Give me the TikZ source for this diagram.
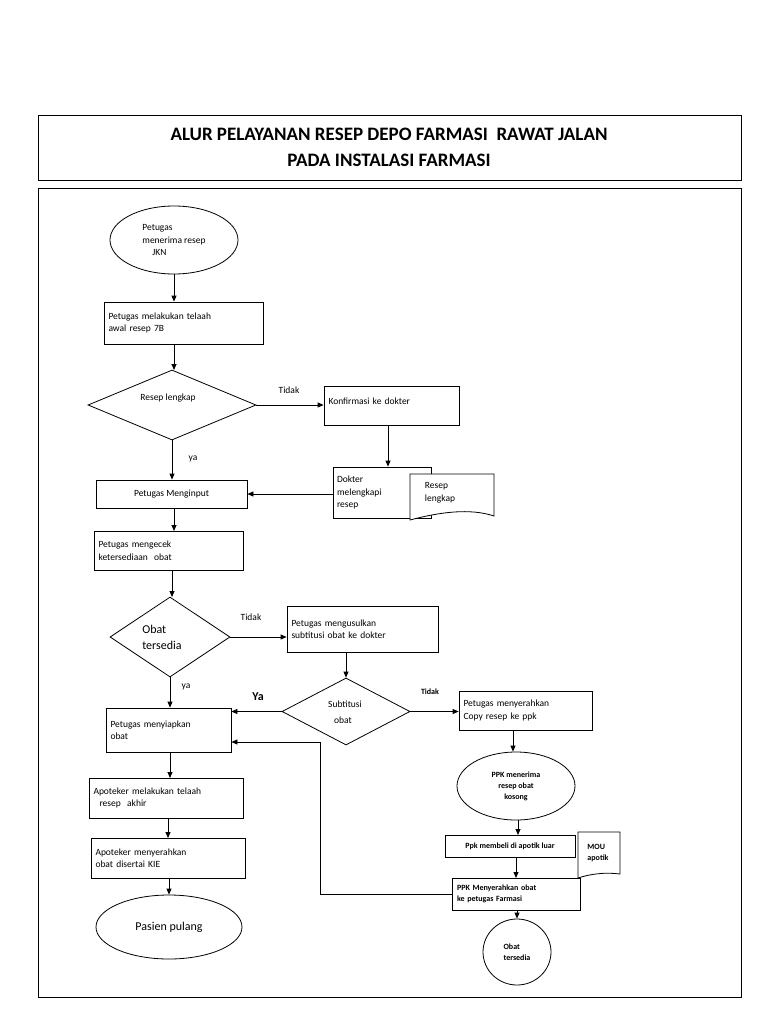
\documentclass[tikz,border=0pt]{standalone}
\usepackage{fontspec}
\setmainfont{Carlito}
\usetikzlibrary{shapes.geometric,arrows.meta}
\begin{document}
\begin{tikzpicture}[x=1pt,y=-1pt,
  every node/.style={font=\fontsize{9.5}{12.5}\selectfont},
  ar/.style={thick,-{Triangle[length=6pt,width=5pt]}}]
\useasboundingbox (0,0) rectangle (768,1024);
\draw[thick] (38,115) rectangle (741,180);
\node[font=\fontsize{19}{26}\selectfont\bfseries,align=center] (title) at (389,147) {ALUR PELAYANAN RESEP DEPO FARMASI \ RAWAT JALAN\\PADA INSTALASI FARMASI};
\draw[thick] (38,188) rectangle (741,997);
% shapes
\node[draw,thick,ellipse,minimum width=128,minimum height=68,align=left] (e1) at (174,240) {Petugas\\menerima resep\\\hspace{10pt}JKN};
\node[draw,thick,minimum width=159,minimum height=42,align=left,text width=150] (b2) at (183.5,323) {Petugas melakukan telaah\\awal resep 7B};
\node[draw,thick,diamond,aspect=2.4,minimum width=168,minimum height=70,inner sep=0] (d1) at (172,405) {};
\node at (168,398) {Resep lengkap};
\node[draw,thick,minimum width=135,minimum height=39,text width=126,align=left] (kf) at (391.5,405.5) {\raisebox{8pt}{Konfirmasi ke dokter}};
\node[draw,thick,minimum width=98,minimum height=51,text width=90,align=left] (dk) at (382,492.5) {Dokter\\melengkapi\\resep};
\draw[thick,fill=white] (410,474) -- (494,474) -- (494,516) .. controls (470,508) and (440,512) .. (410,520) -- cycle;
\node[align=left] (rl) at (440,493) {Resep\\lengkap};
\node[draw,thick,minimum width=151,minimum height=28] (mi) at (171.5,494) {Petugas Menginput};
\node[draw,thick,minimum width=149,minimum height=39,text width=140,align=left] (mc) at (168.5,550.5) {Petugas mengecek\\ketersediaan \ obat\\[4pt]};
\node[draw,thick,diamond,aspect=1.5,minimum width=120,minimum height=80,inner sep=0] (d2) at (170,637) {};
\node[font=\fontsize{12}{16}\selectfont,align=left] at (162,637) {Obat\\ tersedia};
\node[draw,thick,minimum width=151,minimum height=46,text width=142,align=left] (mu) at (362.5,629) {Petugas mengusulkan\\subtitusi obat ke dokter\\[6pt]};
\node[draw,thick,diamond,aspect=1.9,minimum width=128,minimum height=67,inner sep=0] (d3) at (346,711.5) {};
\node[align=left] at (345,712) {Subtitusi\\[3pt]\hspace{6pt}obat};
\node[draw,thick,minimum width=125,minimum height=44,text width=116,align=left] (sp) at (168.5,730) {Petugas menyiapkan\\obat};
\node[draw,thick,minimum width=133,minimum height=39,text width=124,align=left] (cp) at (525.5,710.5) {Petugas menyerahkan\\Copy resep ke ppk};
\node[draw,thick,ellipse,minimum width=118,minimum height=68,align=center,font=\fontsize{8}{11}\selectfont\bfseries] (pe) at (516,786) {PPK menerima\\resep obat\\kosong};
\node[draw,thick,minimum width=130,minimum height=22,font=\fontsize{8}{10}\selectfont\bfseries] (pb) at (510,846) {Ppk membeli di apotik luar};
\draw[thick] (578,832) -- (620,832) -- (620,874) .. controls (605,872) and (590,874) .. (578,878) -- cycle;
\node[align=left,font=\fontsize{8}{11}\selectfont\bfseries] (mou) at (598,853) {MOU\\apotik};
\node[draw,thick,minimum width=128,minimum height=32,text width=118,align=left,font=\fontsize{8}{11}\selectfont\bfseries] (pm) at (516,894) {PPK Menyerahkan obat\\ke petugas Farmasi};
\node[draw,thick,ellipse,minimum width=68,minimum height=66,align=left,font=\fontsize{8}{11}\selectfont\bfseries] (ot) at (517,952) {Obat\\tersedia};
\node[draw,thick,minimum width=154,minimum height=40,text width=145,align=left] (at) at (166,798) {Apoteker melakukan telaah\\\hspace{6pt}resep \ akhir};
\node[draw,thick,minimum width=154,minimum height=40,text width=145,align=left] (am) at (168,858) {Apoteker menyerahkan\\obat disertai KIE\\[4pt]};
\node[draw,thick,ellipse,minimum width=146,minimum height=64,font=\fontsize{12}{15}\selectfont] (pp) at (169,927) {Pasien pulang};
% arrows
\draw[ar] (e1.south) -- (b2.north -| e1.south);
\draw[ar] (174,344) -- (174,370);
\draw[ar] (d1.east) -- (kf.west |- d1.east);
\node at (289,390) {Tidak};
\draw[ar] (kf.south -| 388,0) -- (dk.north -| 388,0);
\draw[ar] (d1.south) -- (mi.north -| d1.south);
\node at (193,459) {ya};
\draw[ar] (dk.west |- mi.east) -- (mi.east);
\draw[ar] (174,508) -- (174,531);
\draw[ar] (172,570) -- (172,597);
\draw[ar] (d2.east) -- (mu.west |- d2.east);
\node at (251,617) {Tidak};
\draw[ar] (346,652) -- (d3.north);
\draw[ar] (d2.south) -- (sp.north -| d2.south);
\node at (186,687) {ya};
\draw[ar] (d3.west) -- (sp.east |- d3.west);
\node[font=\fontsize{12}{15}\selectfont\bfseries] at (258,697) {Ya};
\draw[ar] (d3.east) -- (cp.west |- d3.east);
\node[font=\fontsize{8}{10}\selectfont\bfseries] at (430,692) {Tidak};
\draw[ar] (513,730) -- (pe.north -| 513,0);
\draw[ar] (518,820) -- (518,835);
\draw[ar] (516,857) -- (516,878);
\draw[ar] (pm.south -| 517,0) -- (ot.north);
\draw[ar] (pm.west) -- (320,894) -- (320,742) -- (sp.east |- 0,742);
\draw[ar] (170,752) -- (170,778);
\draw[ar] (168,818) -- (168,838);
\draw[ar] (169,878) -- (pp.north);
\end{tikzpicture}
\end{document}
